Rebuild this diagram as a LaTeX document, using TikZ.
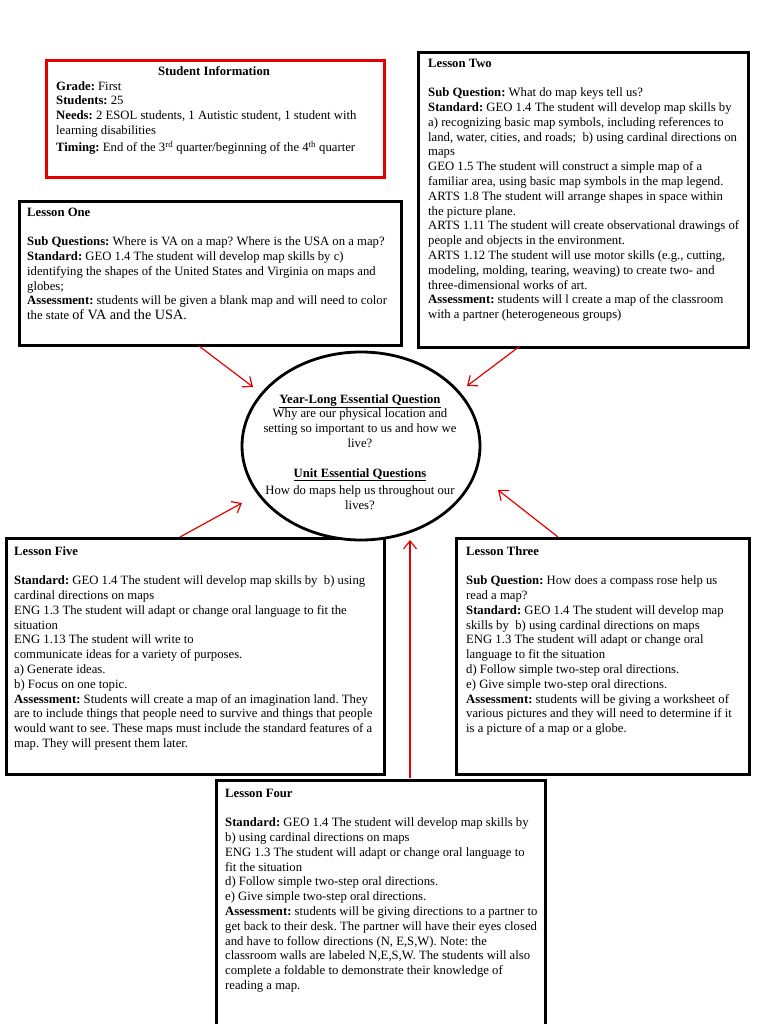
\documentclass[tikz,border=0pt]{standalone}
\usepackage{fontspec}
\setmainfont{Liberation Serif}
\usetikzlibrary{arrows.meta,shapes.geometric}
\frenchspacing
\tikzset{
  box/.style={draw=black, line width=2.8pt, fill=white, inner sep=0pt, anchor=north west},
  redbox/.style={draw=red!90!black, line width=2.8pt, fill=white, inner sep=0pt, anchor=north west},
  txt/.style={inner sep=0pt, anchor=north west, align=left, font=\fontsize{12.7}{14.8}\selectfont\frenchspacing},
  ctxt/.style={inner sep=0pt, anchor=north, align=center, font=\fontsize{12.7}{14.8}\selectfont\frenchspacing},
  arr/.style={draw=red!90!black, line width=1.2pt, -{Straight Barb[length=8pt,width=13pt]}},
  ell/.style={draw=black, line width=2.8pt, fill=white, ellipse, inner sep=0pt}
}
\begin{document}
\begin{tikzpicture}[x=1pt,y=-1pt]
\useasboundingbox (0,0) rectangle (768,1024);
\clip (0,0) rectangle (768,1024);
\fill[white] (0,0) rectangle (768,1024);

% boxes
\node[redbox, minimum width=338pt, minimum height=117pt] (info) at (45,59) {};
\node[box, minimum width=382pt, minimum height=144pt] (l1) at (18,200) {};
\node[box, minimum width=330pt, minimum height=295pt] (l2) at (417,51) {};
\node[box, minimum width=378pt, minimum height=236pt] (l5) at (5,537) {};
\node[box, minimum width=293pt, minimum height=236pt] (l3) at (455,537) {};
\node[box, minimum width=329pt, minimum height=260pt] (l4) at (215,779) {};
\node[ell, minimum width=238pt, minimum height=188pt] (eq) at (361,446) {};

% student information
\node[ctxt, font=\fontsize{12.7}{14.8}\selectfont\bfseries] (infot) at (214,64.6) {\strut Student Information};
\node[txt] (infob) at (56,79.6) {\strut\textbf{Grade:} First\\
\textbf{Students:} 25\\
\textbf{Needs:} 2 ESOL students, 1 Autistic student, 1 student with\\
learning disabilities\\[2pt]
\textbf{Timing:} End of the 3\textsuperscript{rd} quarter/beginning of the 4\textsuperscript{th} quarter};

% lesson one
\node[txt] (l1t) at (27,205.6) {\strut\textbf{Lesson One}\\[14.8pt]
\textbf{Sub Questions:} Where is VA on a map? Where is the USA on a map?\\
\textbf{Standard:} GEO 1.4 The student will develop map skills by c)\\
identifying the shapes of the United States and Virginia on maps and\\
globes;\\
\textbf{Assessment:} students will be given a blank map and will need to color\\
the state {\fontsize{14.2}{17.5}\selectfont of VA and the USA.}};

% lesson two
\node[txt] (l2t) at (428,56.6) {\strut\textbf{Lesson Two}\\[14.8pt]
\textbf{Sub Question:} What do map keys tell us?\\
\textbf{Standard:} GEO 1.4 The student will develop map skills by\\
a) recognizing basic map symbols, including references to\\
land, water, cities, and roads;\ \ b) using cardinal directions on\\
maps\\
GEO 1.5 The student will construct a simple map of a\\
familiar area, using basic map symbols in the map legend.\\
ARTS 1.8 The student will arrange shapes in space within\\
the picture plane.\\
ARTS 1.11 The student will create observational drawings of\\
people and objects in the environment.\\
ARTS 1.12 The student will use motor skills (e.g., cutting,\\
modeling, molding, tearing, weaving) to create two- and\\
three-dimensional works of art.\\
\textbf{Assessment:} students will l create a map of the classroom\\
with a partner (heterogeneous groups)};

% ellipse
\node[ctxt] (eqt) at (360,392.6) {\strut\underline{\textbf{Year-Long Essential Question}}\\
Why are our physical location and\\
setting so important to us and how we\\
live?\\[14.8pt]
\underline{\textbf{Unit Essential Questions}}\\[3pt]
How do maps help us throughout our\\
lives?};

% lesson five
\node[txt] (l5t) at (14,544.6) {\strut\textbf{Lesson Five}\\[14.8pt]
\textbf{Standard:} GEO 1.4 The student will develop map skills by\ \ b) using\\
cardinal directions on maps\\
ENG 1.3 The student will adapt or change oral language to fit the\\
situation\\
ENG 1.13 The student will write to\\
communicate ideas for a variety of purposes.\\
a) Generate ideas.\\
b) Focus on one topic.\\
\textbf{Assessment:} Students will create a map of an imagination land. They\\
are to include things that people need to survive and things that people\\
would want to see. These maps must include the standard features of a\\
map. They will present them later.};

% lesson three
\node[txt] (l3t) at (466,544.6) {\strut\textbf{Lesson Three}\\[14.8pt]
\textbf{Sub Question:} How does a compass rose help us\\
read a map?\\
\textbf{Standard:} GEO 1.4 The student will develop map\\
skills by\ \ b) using cardinal directions on maps\\
ENG 1.3 The student will adapt or change oral\\
language to fit the situation\\
d) Follow simple two-step oral directions.\\
e) Give simple two-step oral directions.\\
\textbf{Assessment:} students will be giving a worksheet of\\
various pictures and they will need to determine if it\\
is a picture of a map or a globe.};

% lesson four
\node[txt] (l4t) at (225,786.6) {\strut\textbf{Lesson Four}\\[14.8pt]
\textbf{Standard:} GEO 1.4 The student will develop map skills by\\
b) using cardinal directions on maps\\
ENG 1.3 The student will adapt or change oral language to\\
fit the situation\\
d) Follow simple two-step oral directions.\\
e) Give simple two-step oral directions.\\
\textbf{Assessment:} students will be giving directions to a partner to\\
get back to their desk. The partner will have their eyes closed\\
and have to follow directions (N, E,S,W). Note: the\\
classroom walls are labeled N,E,S,W. The students will also\\
complete a foldable to demonstrate their knowledge of\\
reading a map.};

% arrows
\coordinate (a1s) at (199,346);
\coordinate (a1e) at (253,387);
\coordinate (a2s) at (520,346);
\coordinate (a2e) at (467,386);
\coordinate (a5s) at (180,537);
\coordinate (a5e) at (242,503);
\coordinate (a3s) at (558,537);
\coordinate (a3e) at (498,490);
\coordinate (a4s) at (410,778);
\coordinate (a4e) at (410,540);
\draw[arr] (a1s) -- (a1e);
\draw[arr] (a2s) -- (a2e);
\draw[arr] (a5s) -- (a5e);
\draw[arr] (a3s) -- (a3e);
\draw[arr] (a4s) -- (a4e);
\end{tikzpicture}
\end{document}
